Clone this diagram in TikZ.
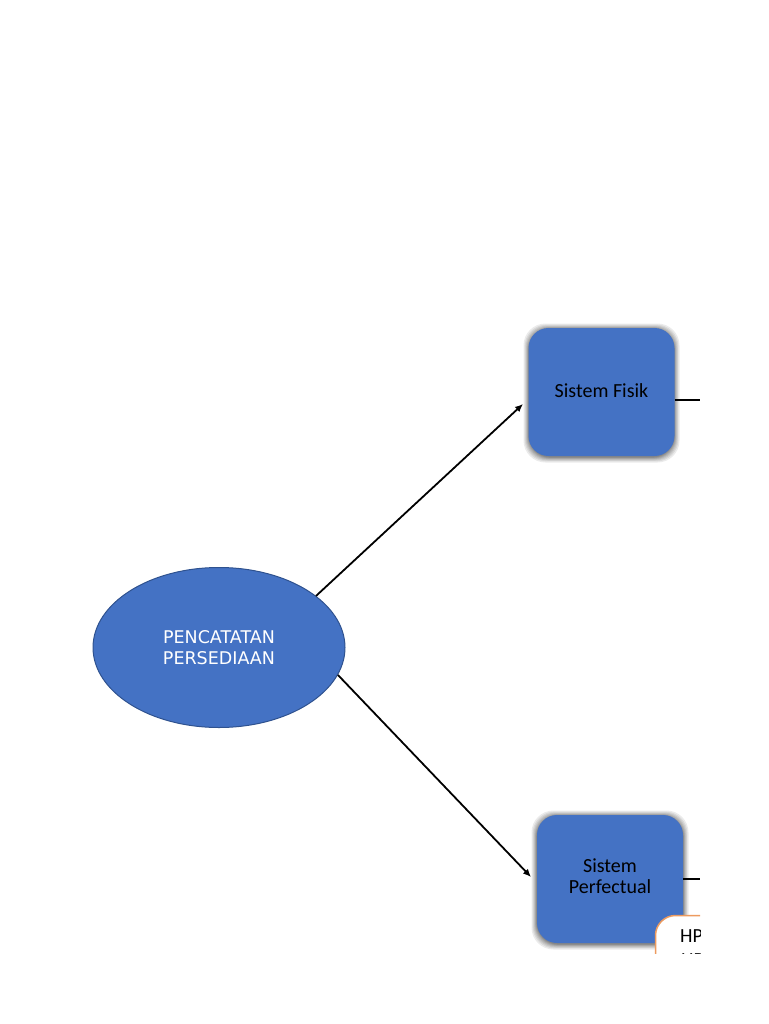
\documentclass[tikz,border=0pt]{standalone}
\usepackage{fontspec}
\setmainfont{Carlito}
\newfontfamily\ellfont{DejaVu Sans}
\usetikzlibrary{shapes.geometric,arrows.meta}
\definecolor{boxblue}{HTML}{4472C4}
\definecolor{boxedge}{HTML}{2F528F}
\definecolor{hporange}{HTML}{ED9B5F}
\tikzset{
    ellbox/.style={ellipse,draw=boxedge,line width=1pt,fill=boxblue,inner sep=0pt,minimum width=252pt,minimum height=160pt,align=center,text=white,font=\ellfont\fontsize{17.5}{21}\selectfont},
    sisbox/.style={rounded corners=20pt,fill=boxblue,inner sep=0pt,minimum width=146pt,minimum height=128pt,align=center,text=black,font=\fontsize{20}{21}\selectfont},
    arrowline/.style={line width=1.8pt,-{Latex[length=8pt,width=7pt]}}
}
\begin{document}
\begin{tikzpicture}[x=1pt,y=-1pt]
    \useasboundingbox (0,0) rectangle (768,1024);
    % soft edge round the boxes
    \foreach \r in {5.5,4.4,3.5,2.7,2,1.4,0.9,0.4}{
        \fill[black,opacity=0.08,rounded corners=22pt] (529-\r,328-\r+1) rectangle (674+\r,456+\r+1);
        \fill[black,opacity=0.08,rounded corners=22pt] (537-\r,815-\r+1) rectangle (683+\r,943+\r+1);
    }
    \node[sisbox] (fisik) at (601.5,392) {\raisebox{3pt}{Sistem Fisik}};
    \node[sisbox] (perpetual) at (610,879) {\raisebox{1pt}{\begin{tabular}{@{}c@{}}Sistem\\Perfectual\end{tabular}}};
    \node[ellbox] (catat) at (219,647.5) {PENCATATAN\\PERSEDIAAN};
    \coordinate (fisikin) at (523,404);
    \coordinate (perpin) at (531,877);
    \coordinate (fisikout) at (700,400);
    \coordinate (perpout) at (700,879);
    \draw[arrowline] (catat.28) -- (fisikin);
    \draw[arrowline] (catat.-13.6) -- (perpin);
    \draw[line width=1.8pt] (fisikout -| fisik.east) -- (fisikout);
    \draw[line width=1.8pt] (perpout -| perpetual.east) -- (perpout);
    \begin{scope}
        \clip (640,905) rectangle (700,953);
        \draw[hporange,line width=1.5pt,fill=white,rounded corners=20pt] (655.5,915.5) rectangle (760,1000);
        \node[anchor=west,inner sep=0pt,font=\fontsize{20}{21}\selectfont] (hp) at (680,936) {HPP};
        \node[anchor=north west,inner sep=0pt,font=\fontsize{20}{21}\selectfont] (hpnext) at (681,953) {HP};
    \end{scope}
\end{tikzpicture}
\end{document}
